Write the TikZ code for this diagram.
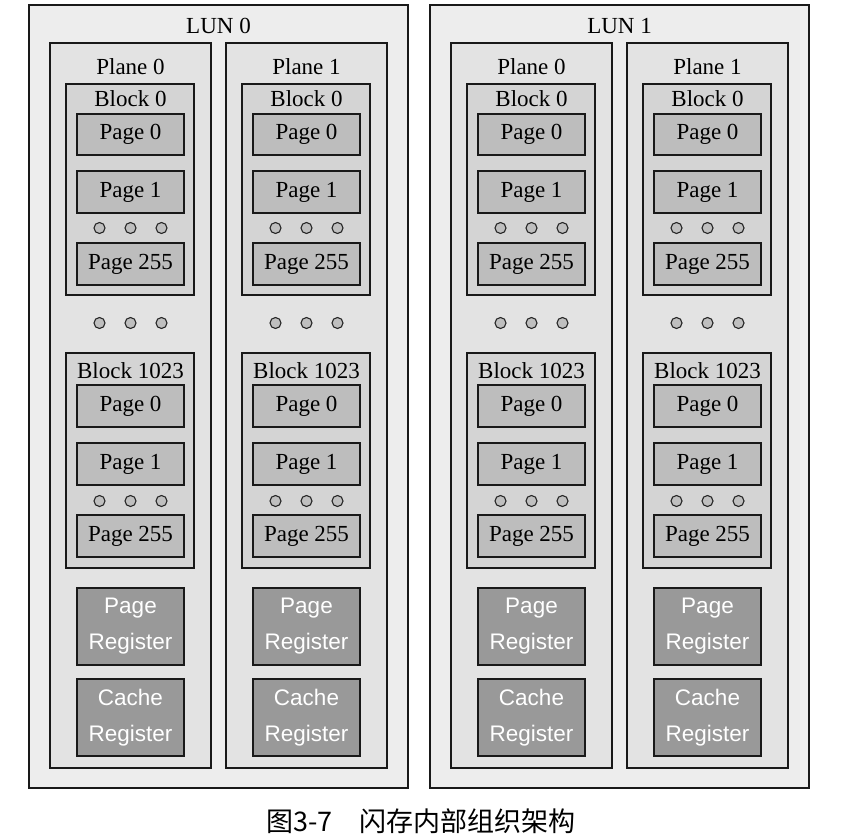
\documentclass[tikz,border=0pt]{standalone}
\usepackage{fontspec}
\setmainfont{Liberation Serif}
\setsansfont{Liberation Sans}
\newfontfamily\cjk{Noto Sans CJK SC}
\begin{document}
\begin{tikzpicture}[x=1pt,y=-1pt,
  lunbox/.style={draw=black!90,line width=1.6pt,fill=black!7},
  planebox/.style={draw=black!90,line width=1.6pt,fill=black!11},
  blockbox/.style={draw=black!90,line width=1.6pt,fill=black!17},
  pagebox/.style={draw=black!90,line width=1.6pt,fill=black!26,font=\fontsize{23}{25}\selectfont},
  regbox/.style={draw=black!90,line width=1.6pt,fill=black!40,text=white,font=\sffamily\fontsize{22.5}{36}\selectfont,align=center},
  lbl/.style={font=\fontsize{23}{25}\selectfont,inner sep=0pt},
  dotc/.style={draw=black!85,line width=1.1pt,fill=black!25}]
\useasboundingbox (0,0) rectangle (858,835);
\foreach \lx/\ln in {29/0,430/1}{
  \draw[lunbox] (\lx,5) rectangle ++(379,783);
  \node[lbl] (lun\ln) at (\lx+189.5,26) {LUN \ln};
}
\foreach \px/\pn/\id in {50/0/a,226/1/b,451/0/c,627/1/d}{
  \draw[planebox] (\px,43) rectangle ++(161,725);
  \node[lbl] (pl\id) at (\px+80.5,67) {Plane \pn};
  % block 0
  \draw[blockbox] (\px+16,84) rectangle ++(128,211);
  \node[lbl] (b0\id) at (\px+80.5,99) {Block 0};
  \node[pagebox,minimum width=107pt,minimum height=41pt,inner sep=0pt] (p0\id) at (\px+80.5,134.5) {Page 0};
  \node[pagebox,minimum width=107pt,minimum height=42pt,inner sep=0pt] (p1\id) at (\px+80.5,192) {Page 1};
  \node[pagebox,minimum width=107pt,minimum height=42pt,inner sep=0pt] (p2\id) at (\px+80.5,264) {Page 255};
  \foreach \dx in {-31,0,31}{\draw[dotc] (\px+80.5+\dx,228) circle (5.5);}
  \foreach \dx in {-31,0,31}{\draw[dotc] (\px+80.5+\dx,323) circle (5.5);}
  % block 1023
  \draw[blockbox] (\px+16,353) rectangle ++(128,215);
  \node[lbl] (b1\id) at (\px+80.5,371) {Block 1023};
  \node[pagebox,minimum width=107pt,minimum height=42pt,inner sep=0pt] (q0\id) at (\px+80.5,406) {Page 0};
  \node[pagebox,minimum width=107pt,minimum height=42pt,inner sep=0pt] (q1\id) at (\px+80.5,464) {Page 1};
  \node[pagebox,minimum width=107pt,minimum height=42pt,inner sep=0pt] (q2\id) at (\px+80.5,536) {Page 255};
  \foreach \dx in {-31,0,31}{\draw[dotc] (\px+80.5+\dx,501) circle (5.5);}
  % registers
  \node[regbox,minimum width=107pt,minimum height=77pt,inner sep=0pt] (pr\id) at (\px+80.5,626.5) {Page\\Register};
  \node[regbox,minimum width=107pt,minimum height=77pt,inner sep=0pt] (cr\id) at (\px+80.5,717.5) {Cache\\Register};
}
\node[inner sep=0pt,font=\fontsize{27}{29}\selectfont] (cap) at (421,821) {\cjk 图3-7\quad 闪存内部组织架构};
\end{tikzpicture}
\end{document}
